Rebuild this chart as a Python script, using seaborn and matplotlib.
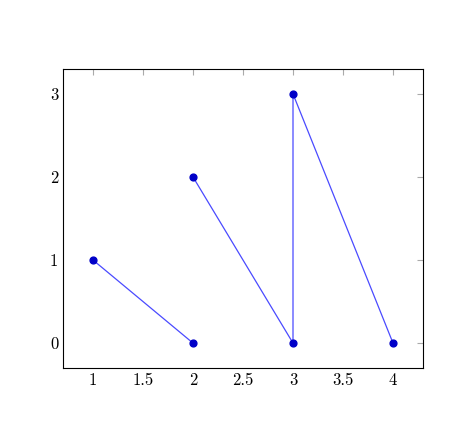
import matplotlib
matplotlib.use("Agg")
import matplotlib.pyplot as plt
import seaborn as sns
import pandas as pd

x = [1, 2, 2, 3, 3, 4]
y = [1, 0, 2, 0, 3, 0]
seg = [0, 0, 1, 1, 1, 1]
df = pd.DataFrame({"x": x, "y": y, "seg": seg})

sns.set_style("white")
plt.rcParams["font.family"] = ["cmr10", "DejaVu Serif"]
plt.rcParams["mathtext.fontset"] = "cm"
plt.rcParams["axes.formatter.use_mathtext"] = True

fig = plt.figure(figsize=(4.74, 4.28), dpi=100)
ax = fig.add_axes([63/474, 1-368/428, 360/474, 299/428])
sns.lineplot(data=df, x="x", y="y", units="seg", estimator=None, sort=False,
             color="#4a4aff", linewidth=0.9, ax=ax)
ax.scatter(df["x"], df["y"], color="#0000c8", s=24, zorder=3)
ax.set_xlim(0.7, 4.3)
ax.set_ylim(-0.3, 3.3)
ax.set_xticks([1, 1.5, 2, 2.5, 3, 3.5, 4])
ax.set_xticklabels(["1", "1.5", "2", "2.5", "3", "3.5", "4"])
ax.set_yticks([0, 1, 2, 3])
ax.set_yticklabels(["0", "1", "2", "3"])
ax.set_xlabel("")
ax.set_ylabel("")
ax.tick_params(direction="in", top=True, right=True, length=4, color="#aaaaaa",
               labelsize=12, labelcolor="black")
for s in ax.spines.values():
    s.set_color("black")
    s.set_linewidth(0.8)
fig.savefig("out.png", dpi=100)
